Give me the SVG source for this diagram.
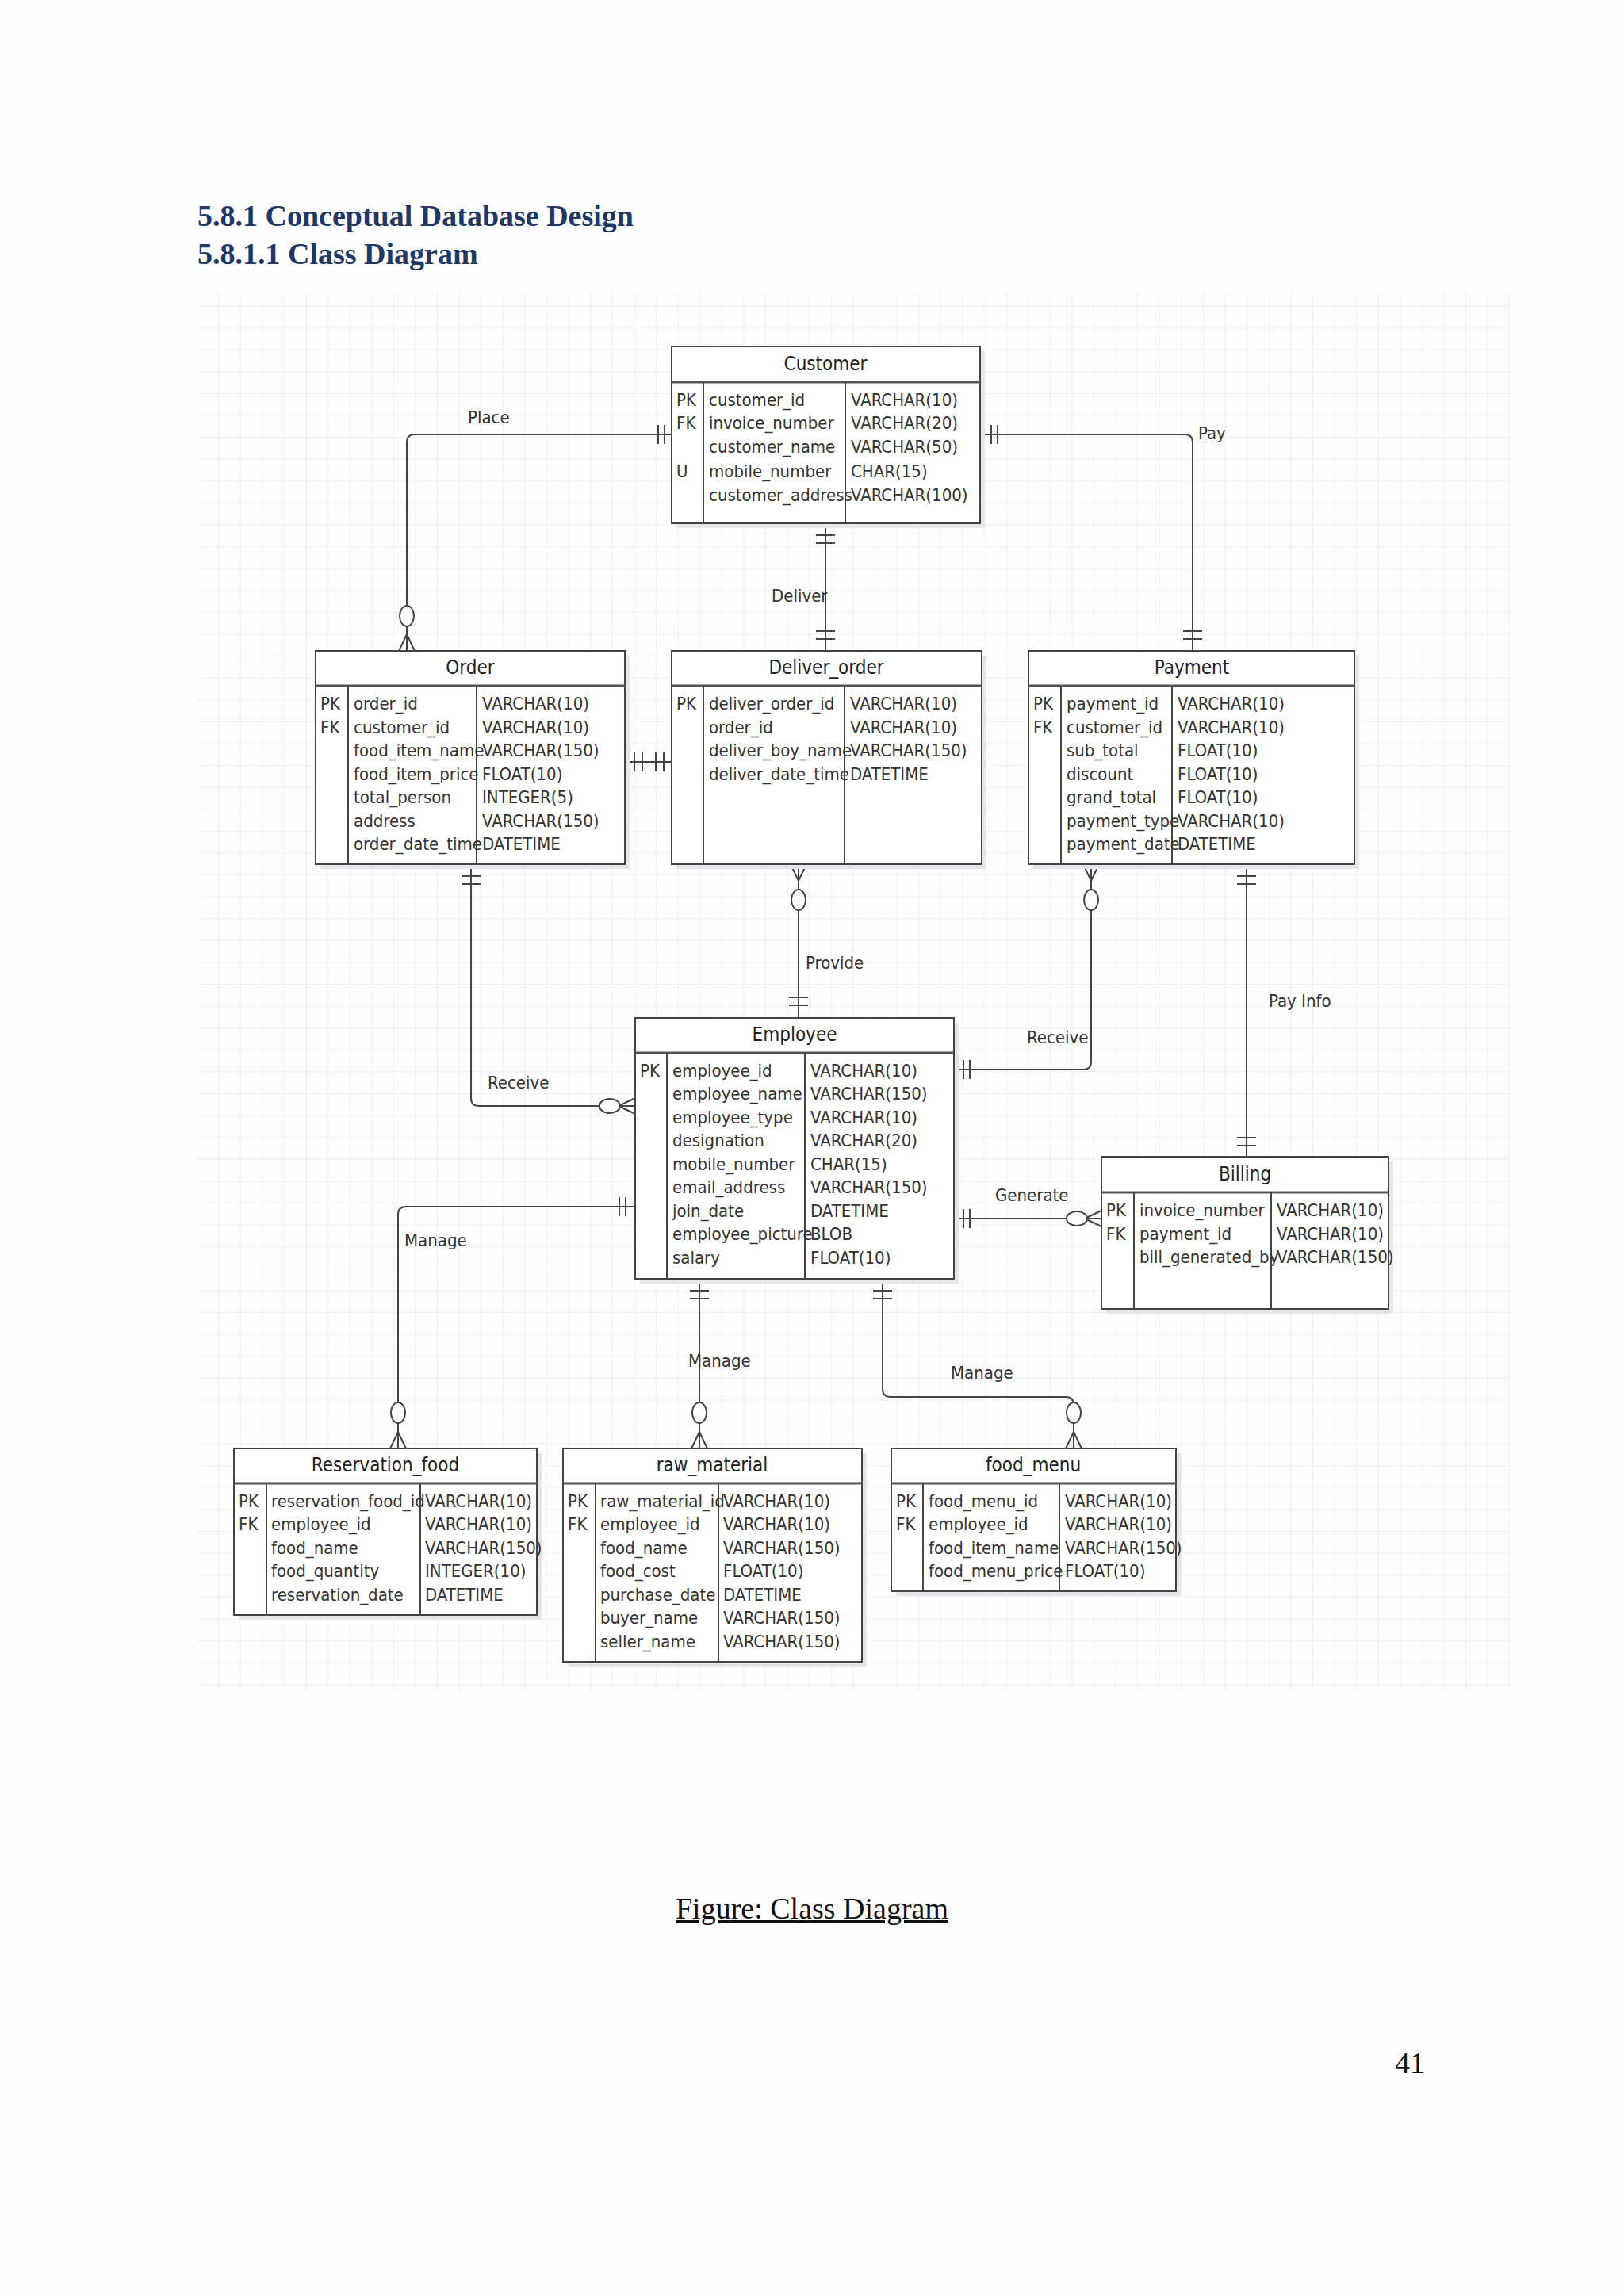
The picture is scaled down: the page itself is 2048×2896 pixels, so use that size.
<svg xmlns="http://www.w3.org/2000/svg" width="2048" height="2896" viewBox="0 0 2048 2896">
<style>
.h{font-family:"Liberation Serif","Times New Roman",serif;font-weight:bold;font-size:38px;fill:#1F3864}
.t{font-family:"Liberation Sans Narrow","DejaVu Sans Condensed","Liberation Sans",sans-serif;font-size:22px;fill:#333}
.tt{font-family:"Liberation Sans Narrow","DejaVu Sans Condensed","Liberation Sans",sans-serif;font-size:24px;fill:#222;text-anchor:middle}
.box{fill:#fff;stroke:#444;stroke-width:2}
.hd{stroke:#555;stroke-width:3}
.dv{stroke:#444;stroke-width:2}
.sh{fill:#e6e6ea}
.c{fill:none;stroke:#444;stroke-width:2}
.o{fill:#fff;stroke:#444;stroke-width:2}
</style>
<defs>
<pattern id="g" width="27.6" height="27.6" patternUnits="userSpaceOnUse">
<path d="M27.6 0V27.6H0" fill="none" stroke="#e4e4ec" stroke-width="1"/>
</pattern>
</defs>
<rect width="2048" height="2896" fill="#fdfdfe"/>
<rect x="249" y="369" width="1655" height="1762" fill="url(#g)"/>
<text class="h" x="249" y="285">5.8.1    Conceptual Database Design</text>
<text class="h" x="249" y="333">5.8.1.1    Class Diagram</text>

<g id="connectors">
<!-- Place -->
<path class="c" d="M847 548H523Q513 548 513 558V821"/>
<path class="c" d="M830 536V560M838 536V560M513 800L503 821M513 800V821M513 800L523 821"/>
<ellipse class="o" cx="513" cy="777" rx="9" ry="13"/>
<text class="t" x="590" y="534">Place</text>
<!-- Pay -->
<path class="c" d="M1236 548H1494Q1504 548 1504 558V821"/>
<path class="c" d="M1250 536V560M1258 536V560M1492 796H1516M1492 806H1516"/>
<text class="t" x="1511" y="554">Pay</text>
<!-- Deliver -->
<path class="c" d="M1041 660V821M1029 675H1053M1029 685H1053M1029 796H1053M1029 806H1053"/>
<text class="t" x="973" y="759">Deliver</text>
<!-- Order - Deliver_order -->
<path class="c" d="M788 961H847M800 949V973M810 949V973M827 949V973M837 949V973"/>
<!-- Provide -->
<path class="c" d="M1007 1090V1284M995 1258H1019M995 1268H1019M1007 1111L997 1090M1007 1111V1090M1007 1111L1017 1090"/>
<ellipse class="o" cx="1007" cy="1135" rx="9" ry="13"/>
<text class="t" x="1016" y="1222">Provide</text>
<!-- Payment - Employee Receive -->
<path class="c" d="M1376 1090V1339Q1376 1349 1366 1349H1203M1215 1337V1361M1223 1337V1361M1376 1111L1366 1090M1376 1111V1090M1376 1111L1386 1090"/>
<ellipse class="o" cx="1376" cy="1135" rx="9" ry="13"/>
<text class="t" x="1295" y="1316">Receive</text>
<!-- Pay Info -->
<path class="c" d="M1572 1090V1459M1560 1105H1584M1560 1115H1584M1560 1435H1584M1560 1445H1584"/>
<text class="t" x="1600" y="1270">Pay Info</text>
<!-- Order - Employee Receive -->
<path class="c" d="M594 1090V1385Q594 1395 604 1395H801M582 1105H606M582 1115H606M780 1395L801 1385M780 1395H801M780 1395L801 1405"/>
<ellipse class="o" cx="769" cy="1395" rx="13" ry="9"/>
<text class="t" x="615" y="1373">Receive</text>
<!-- Generate -->
<path class="c" d="M1203 1537H1389M1215 1525V1549M1223 1525V1549M1368 1537L1389 1527M1368 1537H1389M1368 1537L1389 1547"/>
<ellipse class="o" cx="1358" cy="1537" rx="13" ry="9"/>
<text class="t" x="1255" y="1515">Generate</text>
<!-- Manage Reservation -->
<path class="c" d="M801 1522H512Q502 1522 502 1532V1827M781 1510V1534M789 1510V1534M502 1806L492 1827M502 1806V1827M502 1806L512 1827"/>
<ellipse class="o" cx="502" cy="1782" rx="9" ry="13"/>
<text class="t" x="510" y="1572">Manage</text>
<!-- Manage raw -->
<path class="c" d="M882 1613V1827M870 1628H894M870 1638H894M882 1806L872 1827M882 1806V1827M882 1806L892 1827"/>
<ellipse class="o" cx="882" cy="1782" rx="9" ry="13"/>
<text class="t" x="868" y="1724">Manage</text>
<!-- Manage food_menu -->
<path class="c" d="M1113 1613V1752Q1113 1762 1123 1762H1344Q1354 1762 1354 1772V1827M1101 1628H1125M1101 1638H1125M1354 1806L1344 1827M1354 1806V1827M1354 1806L1364 1827"/>
<ellipse class="o" cx="1354" cy="1782" rx="9" ry="13"/>
<text class="t" x="1199" y="1739">Manage</text>
</g>

<g id="Customer">
<rect class="sh" x="853" y="443" width="389" height="223"/>
<rect class="box" x="847" y="437" width="389" height="223"/>
<line class="hd" x1="847" y1="482" x2="1236" y2="482"/>
<line class="dv" x1="887" y1="482" x2="887" y2="660"/><line class="dv" x1="1066" y1="482" x2="1066" y2="660"/>
<text class="tt" x="1041" y="467">Customer</text>
<text class="t" x="853" y="512">PK</text><text class="t" x="853" y="541">FK</text><text class="t" x="853" y="602">U</text>
<text class="t" x="894" y="512">customer_id</text><text class="t" x="894" y="541">invoice_number</text><text class="t" x="894" y="571">customer_name</text><text class="t" x="894" y="602">mobile_number</text><text class="t" x="894" y="632">customer_address</text>
<text class="t" x="1073" y="512">VARCHAR(10)</text><text class="t" x="1073" y="541">VARCHAR(20)</text><text class="t" x="1073" y="571">VARCHAR(50)</text><text class="t" x="1073" y="602">CHAR(15)</text><text class="t" x="1073" y="632">VARCHAR(100)</text>
</g>

<g id="Order">
<rect class="sh" x="404" y="827" width="390" height="269"/>
<rect class="box" x="398" y="821" width="390" height="269"/>
<line class="hd" x1="398" y1="865" x2="788" y2="865"/>
<line class="dv" x1="439" y1="865" x2="439" y2="1090"/><line class="dv" x1="601" y1="865" x2="601" y2="1090"/>
<text class="tt" x="593" y="850">Order</text>
<text class="t" x="404" y="895">PK</text><text class="t" x="404" y="925">FK</text>
<text class="t" x="446" y="895">order_id</text><text class="t" x="446" y="925">customer_id</text><text class="t" x="446" y="954">food_item_name</text><text class="t" x="446" y="984">food_item_price</text><text class="t" x="446" y="1013">total_person</text><text class="t" x="446" y="1043">address</text><text class="t" x="446" y="1072">order_date_time</text>
<text class="t" x="608" y="895">VARCHAR(10)</text><text class="t" x="608" y="925">VARCHAR(10)</text><text class="t" x="608" y="954">VARCHAR(150)</text><text class="t" x="608" y="984">FLOAT(10)</text><text class="t" x="608" y="1013">INTEGER(5)</text><text class="t" x="608" y="1043">VARCHAR(150)</text><text class="t" x="608" y="1072">DATETIME</text>
</g>

<g id="Deliver_order">
<rect class="sh" x="853" y="827" width="391" height="269"/>
<rect class="box" x="847" y="821" width="391" height="269"/>
<line class="hd" x1="847" y1="865" x2="1238" y2="865"/>
<line class="dv" x1="887" y1="865" x2="887" y2="1090"/><line class="dv" x1="1065" y1="865" x2="1065" y2="1090"/>
<text class="tt" x="1042" y="850">Deliver_order</text>
<text class="t" x="853" y="895">PK</text>
<text class="t" x="894" y="895">deliver_order_id</text><text class="t" x="894" y="925">order_id</text><text class="t" x="894" y="954">deliver_boy_name</text><text class="t" x="894" y="984">deliver_date_time</text>
<text class="t" x="1072" y="895">VARCHAR(10)</text><text class="t" x="1072" y="925">VARCHAR(10)</text><text class="t" x="1072" y="954">VARCHAR(150)</text><text class="t" x="1072" y="984">DATETIME</text>
</g>

<g id="Payment">
<rect class="sh" x="1303" y="827" width="411" height="269"/>
<rect class="box" x="1297" y="821" width="411" height="269"/>
<line class="hd" x1="1297" y1="865" x2="1708" y2="865"/>
<line class="dv" x1="1338" y1="865" x2="1338" y2="1090"/><line class="dv" x1="1478" y1="865" x2="1478" y2="1090"/>
<text class="tt" x="1503" y="850">Payment</text>
<text class="t" x="1303" y="895">PK</text><text class="t" x="1303" y="925">FK</text>
<text class="t" x="1345" y="895">payment_id</text><text class="t" x="1345" y="925">customer_id</text><text class="t" x="1345" y="954">sub_total</text><text class="t" x="1345" y="984">discount</text><text class="t" x="1345" y="1013">grand_total</text><text class="t" x="1345" y="1043">payment_type</text><text class="t" x="1345" y="1072">payment_date</text>
<text class="t" x="1485" y="895">VARCHAR(10)</text><text class="t" x="1485" y="925">VARCHAR(10)</text><text class="t" x="1485" y="954">FLOAT(10)</text><text class="t" x="1485" y="984">FLOAT(10)</text><text class="t" x="1485" y="1013">FLOAT(10)</text><text class="t" x="1485" y="1043">VARCHAR(10)</text><text class="t" x="1485" y="1072">DATETIME</text>
</g>

<g id="Employee">
<rect class="sh" x="807" y="1290" width="402" height="329"/>
<rect class="box" x="801" y="1284" width="402" height="329"/>
<line class="hd" x1="801" y1="1328" x2="1203" y2="1328"/>
<line class="dv" x1="841" y1="1328" x2="841" y2="1613"/><line class="dv" x1="1015" y1="1328" x2="1015" y2="1613"/>
<text class="tt" x="1002" y="1313">Employee</text>
<text class="t" x="807" y="1358">PK</text>
<text class="t" x="848" y="1358">employee_id</text><text class="t" x="848" y="1387">employee_name</text><text class="t" x="848" y="1417">employee_type</text><text class="t" x="848" y="1446">designation</text><text class="t" x="848" y="1476">mobile_number</text><text class="t" x="848" y="1505">email_address</text><text class="t" x="848" y="1535">join_date</text><text class="t" x="848" y="1564">employee_picture</text><text class="t" x="848" y="1594">salary</text>
<text class="t" x="1022" y="1358">VARCHAR(10)</text><text class="t" x="1022" y="1387">VARCHAR(150)</text><text class="t" x="1022" y="1417">VARCHAR(10)</text><text class="t" x="1022" y="1446">VARCHAR(20)</text><text class="t" x="1022" y="1476">CHAR(15)</text><text class="t" x="1022" y="1505">VARCHAR(150)</text><text class="t" x="1022" y="1535">DATETIME</text><text class="t" x="1022" y="1564">BLOB</text><text class="t" x="1022" y="1594">FLOAT(10)</text>
</g>

<g id="Billing">
<rect class="sh" x="1395" y="1465" width="362" height="192"/>
<rect class="box" x="1389" y="1459" width="362" height="192"/>
<line class="hd" x1="1389" y1="1504" x2="1751" y2="1504"/>
<line class="dv" x1="1430" y1="1504" x2="1430" y2="1651"/><line class="dv" x1="1603" y1="1504" x2="1603" y2="1651"/>
<text class="tt" x="1570" y="1489">Billing</text>
<text class="t" x="1395" y="1534">PK</text><text class="t" x="1395" y="1564">FK</text>
<text class="t" x="1437" y="1534">invoice_number</text><text class="t" x="1437" y="1564">payment_id</text><text class="t" x="1437" y="1593">bill_generated_by</text>
<text class="t" x="1610" y="1534">VARCHAR(10)</text><text class="t" x="1610" y="1564">VARCHAR(10)</text><text class="t" x="1610" y="1593">VARCHAR(150)</text>
</g>

<g id="Reservation_food">
<rect class="sh" x="301" y="1833" width="382" height="210"/>
<rect class="box" x="295" y="1827" width="382" height="210"/>
<line class="hd" x1="295" y1="1871" x2="677" y2="1871"/>
<line class="dv" x1="336" y1="1871" x2="336" y2="2037"/><line class="dv" x1="530" y1="1871" x2="530" y2="2037"/>
<text class="tt" x="486" y="1856">Reservation_food</text>
<text class="t" x="301" y="1901">PK</text><text class="t" x="301" y="1930">FK</text>
<text class="t" x="342" y="1901">reservation_food_id</text><text class="t" x="342" y="1930">employee_id</text><text class="t" x="342" y="1960">food_name</text><text class="t" x="342" y="1989">food_quantity</text><text class="t" x="342" y="2019">reservation_date</text>
<text class="t" x="536" y="1901">VARCHAR(10)</text><text class="t" x="536" y="1930">VARCHAR(10)</text><text class="t" x="536" y="1960">VARCHAR(150)</text><text class="t" x="536" y="1989">INTEGER(10)</text><text class="t" x="536" y="2019">DATETIME</text>
</g>

<g id="raw_material">
<rect class="sh" x="716" y="1833" width="377" height="269"/>
<rect class="box" x="710" y="1827" width="377" height="269"/>
<line class="hd" x1="710" y1="1871" x2="1087" y2="1871"/>
<line class="dv" x1="751" y1="1871" x2="751" y2="2096"/><line class="dv" x1="906" y1="1871" x2="906" y2="2096"/>
<text class="tt" x="898" y="1856">raw_material</text>
<text class="t" x="716" y="1901">PK</text><text class="t" x="716" y="1930">FK</text>
<text class="t" x="757" y="1901">raw_material_id</text><text class="t" x="757" y="1930">employee_id</text><text class="t" x="757" y="1960">food_name</text><text class="t" x="757" y="1989">food_cost</text><text class="t" x="757" y="2019">purchase_date</text><text class="t" x="757" y="2048">buyer_name</text><text class="t" x="757" y="2078">seller_name</text>
<text class="t" x="912" y="1901">VARCHAR(10)</text><text class="t" x="912" y="1930">VARCHAR(10)</text><text class="t" x="912" y="1960">VARCHAR(150)</text><text class="t" x="912" y="1989">FLOAT(10)</text><text class="t" x="912" y="2019">DATETIME</text><text class="t" x="912" y="2048">VARCHAR(150)</text><text class="t" x="912" y="2078">VARCHAR(150)</text>
</g>

<g id="food_menu">
<rect class="sh" x="1130" y="1833" width="359" height="180"/>
<rect class="box" x="1124" y="1827" width="359" height="180"/>
<line class="hd" x1="1124" y1="1871" x2="1483" y2="1871"/>
<line class="dv" x1="1164" y1="1871" x2="1164" y2="2007"/><line class="dv" x1="1336" y1="1871" x2="1336" y2="2007"/>
<text class="tt" x="1303" y="1856">food_menu</text>
<text class="t" x="1130" y="1901">PK</text><text class="t" x="1130" y="1930">FK</text>
<text class="t" x="1171" y="1901">food_menu_id</text><text class="t" x="1171" y="1930">employee_id</text><text class="t" x="1171" y="1960">food_item_name</text><text class="t" x="1171" y="1989">food_menu_price</text>
<text class="t" x="1343" y="1901">VARCHAR(10)</text><text class="t" x="1343" y="1930">VARCHAR(10)</text><text class="t" x="1343" y="1960">VARCHAR(150)</text><text class="t" x="1343" y="1989">FLOAT(10)</text>
</g>

<text x="1024" y="2420" text-anchor="middle" text-decoration="underline" style="font-family:'Liberation Serif','Times New Roman',serif;font-size:38px;fill:#111">Figure: Class Diagram</text>
<text x="1778" y="2615" text-anchor="middle" style="font-family:'Liberation Serif','Times New Roman',serif;font-size:38px;fill:#111">41</text>
</svg>
